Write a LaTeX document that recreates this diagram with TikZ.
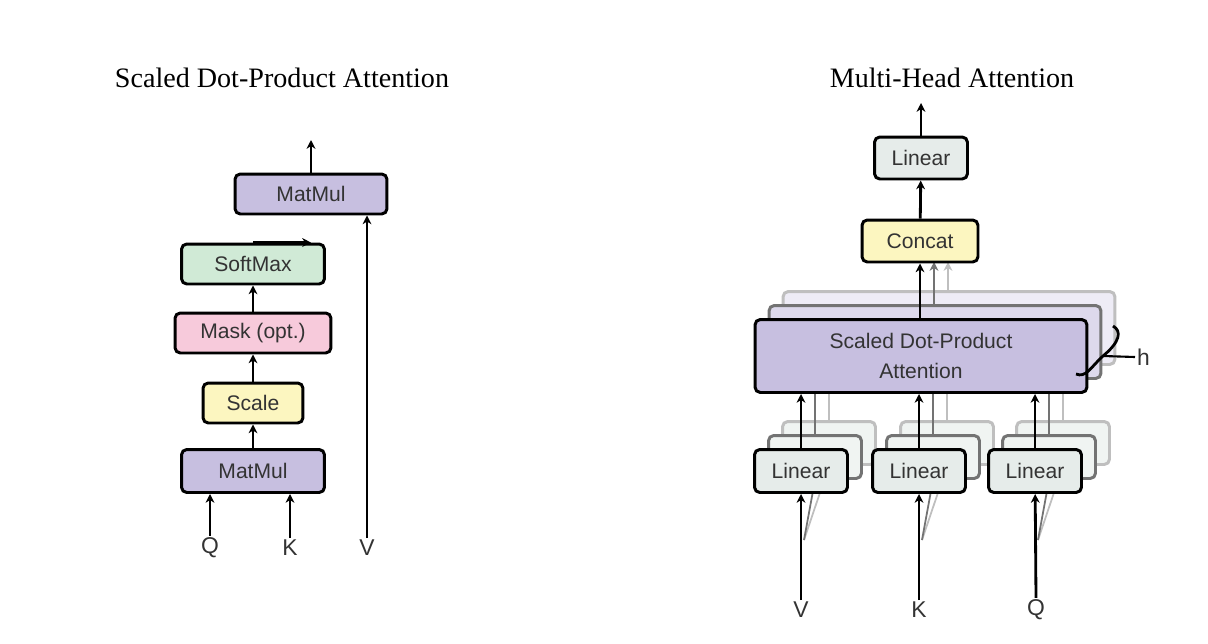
\documentclass[tikz,border=0pt]{standalone}
\usepackage{fontspec}
\setmainfont{Liberation Serif}
\newfontfamily\lab{Liberation Sans}
\usetikzlibrary{arrows.meta}
\definecolor{cpur}{HTML}{C7BFE0}
\definecolor{cgrn}{HTML}{D0EAD6}
\definecolor{cpnk}{HTML}{F7CADB}
\definecolor{cyel}{HTML}{FCF6C0}
\definecolor{cgry}{HTML}{E6ECEA}
\begin{document}
\begin{tikzpicture}[x=0.02cm,y=-0.02cm,
  box/.style={draw=black,line width=1.7pt,rounded corners=3pt,font=\lab\fontsize{12}{14}\selectfont,text=black!80,inner sep=0pt},
  ghost/.style={box,draw=#1,text opacity=0},
  arr/.style={line width=1.6pt,-{Stealth[length=5pt,width=5pt]}},
  lbl/.style={font=\lab\fontsize{13}{15}\selectfont,text=black!80,inner sep=1pt},
  title/.style={font=\fontsize{16}{19}\selectfont}]
\useasboundingbox (0,0) rectangle (1208,643);
\node[title] (t1) at (282,78) {Scaled Dot-Product Attention};
\node[title] (t2) at (952,78) {Multi-Head Attention};
% left
\node[box,fill=cpur,minimum width=3.04cm,minimum height=0.8cm] (mm2) at (311,194) {MatMul};
\node[box,fill=cgrn,minimum width=2.86cm,minimum height=0.8cm] (sm) at (253,264) {SoftMax};
\node[box,fill=cpnk,minimum width=3.12cm,minimum height=0.8cm] (mask) at (253,333) {Mask (opt.)};
\node[box,fill=cyel,minimum width=2.0cm,minimum height=0.8cm] (sc) at (253,403) {Scale};
\node[box,fill=cpur,minimum width=2.86cm,minimum height=0.86cm] (mm1) at (253,471) {MatMul};
\node[lbl] (q) at (210,548) {Q};
\node[lbl] (k) at (290,548) {K};
\node[lbl] (v) at (367,548) {V};
\coordinate (out1) at (311,140);
\draw[arr] (q.north) -- (q.north |- mm1.south);
\draw[arr] (k.north) -- (k.north |- mm1.south);
\draw[arr] (v.north) -- (v.north |- mm2.south);
\draw[arr] (mm1) -- (sc);
\draw[arr] (sc) -- (mask);
\draw[arr] (mask) -- (sm);
\draw[arr] (sm.north) -- (sm.north -| mm2.south) ;
\draw[arr] (mm2) -- (out1);
% right: back copies
\foreach \o/\c/\f in {2/black!25/cpur!30,1/black!55/cpur!60}{
  \node[ghost=\c,fill=\f,minimum width=6.64cm,minimum height=1.46cm] (sd\o) at (921+14*\o,356-14*\o) {};
  \foreach \x/\n in {801/a,919/b,1035/c}{
    \node[ghost=\c,fill=cgry!60,minimum width=1.86cm,minimum height=0.86cm] (l\n\o) at (\x+14*\o,471-14*\o) {};
    \draw[line width=1.6pt,\c] (l\n\o.north) -- (l\n\o.north |- sd\o.south);
    \draw[line width=1pt,\c] (\x+3,540) -- (l\n\o.south);
  }
  \draw[arr,\c] (sd\o.north -| 920+14*\o,0) -- (920+14*\o,262);
}
\node[box,fill=cpur,minimum width=6.64cm,minimum height=1.46cm,align=center,font=\lab\fontsize{12}{17}\selectfont] (sd) at (921,356) {Scaled Dot-Product\\Attention};
\node[box,fill=cgry,minimum width=1.86cm,minimum height=0.86cm] (la) at (801,471) {Linear};
\node[box,fill=cgry,minimum width=1.86cm,minimum height=0.86cm] (lb) at (919,471) {Linear};
\node[box,fill=cgry,minimum width=1.86cm,minimum height=0.86cm] (lc) at (1035,471) {Linear};
\node[box,fill=cyel,minimum width=2.32cm,minimum height=0.84cm] (cc) at (920,241) {Concat};
\node[box,fill=cgry,minimum width=1.86cm,minimum height=0.84cm] (lt) at (921,158) {Linear};
\coordinate (out2) at (921,103);
\node[lbl] (v2) at (801,610) {V};
\node[lbl] (k2) at (919,610) {K};
\node[lbl] (q2) at (1036,610) {Q};
\draw[arr] (v2.north) -- (la);
\draw[arr] (k2.north) -- (lb);
\draw[arr] (q2.north) -- (lc);
\foreach \n in {a,b,c}{\draw[arr] (l\n.north) -- (l\n.north |- sd.south);}
\draw[arr] (sd.north -| cc.south) -- (cc.south);
\draw[arr] (cc) -- (lt);
\draw[arr] (lt) -- (out2);
% brace
\coordinate (hb) at (1103,356);
\draw[line width=1.6pt] (1113,326) .. controls (1122,331) and (1120,342) .. (hb) .. controls (1090,368) and (1086,378) .. (1076,374);
\node[lbl,anchor=west] (h) at (1135,357) {h};
\draw[line width=1.2pt] (hb) -- (h.west);
\end{tikzpicture}
\end{document}
